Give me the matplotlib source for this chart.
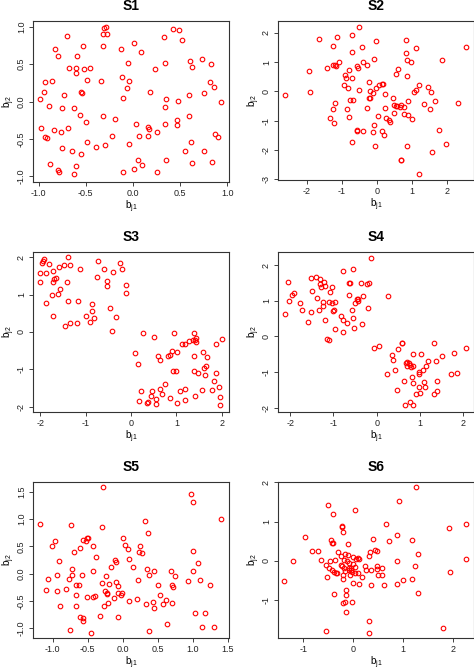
import numpy as np
import matplotlib
matplotlib.use("Agg")
import matplotlib.pyplot as plt

plt.rcParams['font.family'] = ['Liberation Sans', 'DejaVu Sans']
plt.rcParams['mathtext.default'] = 'regular'
plt.rcParams['axes.unicode_minus'] = False

# ---------------- data ----------------
s1_x = [-0.31, -0.29, -0.32, -0.27, -0.32, -0.70, -0.83, -0.53, -0.79, -0.59,
        -0.68, -0.60, -0.52, -0.45, -0.60, -0.49, -0.34, -0.86, -0.93, -0.94,
        -0.73, -0.55, -0.54, -0.99, -0.89, -0.75, -0.62, -0.56, -0.50, -0.98,
        -0.84, -0.69, -0.76, -0.93, -0.91, -0.75, -0.65, -0.55, -0.49, -0.39,
        -0.30, -0.32, -0.19, -0.22, -0.88, -0.79, -0.78, -0.60, -0.62, -0.11,
        0.01, 0.05, 0.10, 0.26, -0.04, 0.06, 0.03, 0.16, 0.17, 0.16,
        0.26, 0.34, 0.34, 0.35, 0.48, 0.47, 0.47, 0.60, 0.55, 0.35,
        0.62, 0.63, 0.75, 0.84, 0.87, 0.90, 0.94, 0.75, 0.86, 0.82,
        0.60, 0.83, 0.63, 0.61, 0.73, 0.34, 0.24, 0.18, 0.33, 0.43,
        0.49, 0.52, 0.01, 0.09, -0.13, -0.05, -0.12, -0.04, -0.06, -0.11]
s1_y = [0.99, 1.00, 0.90, 0.90, 0.74, 0.88, 0.71, 0.74, 0.61, 0.61,
        0.45, 0.45, 0.44, 0.45, 0.38, 0.29, 0.28, 0.28, 0.26, 0.13,
        0.09, 0.13, 0.12, 0.04, -0.06, -0.09, -0.09, -0.18, -0.28, -0.35,
        -0.38, -0.36, -0.41, -0.47, -0.49, -0.63, -0.67, -0.70, -0.54, -0.61,
        -0.58, -0.19, -0.23, -0.46, -0.84, -0.92, -0.95, -0.86, -0.97, -0.95,
        -0.91, -0.78, -0.85, -0.95, -0.57, -0.46, -0.30, -0.34, -0.37, -0.46,
        -0.41, -0.30, -0.08, 0.04, 0.01, -0.25, -0.32, -0.19, -0.67, -0.79,
        -0.54, -0.82, -0.66, -0.81, -0.44, -0.47, 0.00, 0.12, 0.19, 0.26,
        0.09, 0.50, 0.46, 0.55, 0.57, 0.52, 0.44, 0.13, 0.87, 0.97,
        0.96, 0.82, 0.79, 0.66, 0.70, 0.52, 0.33, 0.28, 0.18, 0.05]

s2_x = [-2.64, -1.95, -1.91, -1.65, -1.13, -1.26, -0.52, -0.72, -0.72, -0.42,
        -0.02, -1.07, -1.27, -1.21, -1.18, -1.42, -0.40, -0.57, -0.55, -0.29,
        -0.08, -0.81, -0.90, -0.88, -0.70, -0.94, -0.84, -0.52, -0.22, -0.21,
        -0.12, -0.02, 0.05, 0.14, 0.17, -0.23, -0.20, -0.69, -0.76, -1.20,
        -1.27, -0.86, -0.27, -0.79, -1.33, -1.24, -0.58, -0.57, -0.40, -0.71,
        -0.12, -0.09, -0.05, 0.04, 0.14, 0.21, 0.24, 0.25, 0.24, 0.45,
        0.36, 0.38, 0.48, 0.50, 0.55, 0.56, 0.61, 0.69, 0.77, 0.77,
        0.67, 0.59, 0.88, 1.00, 0.87, 0.90, 0.82, 0.84, 0.87, 0.98,
        1.12, 1.07, 1.13, 1.22, 1.36, 1.45, 1.54, 1.52, 1.65, 1.85,
        2.56, 2.32, 1.78, 1.99, 1.57, 0.86, 0.69, 0.70, 1.20]
s2_y = [-0.11, 0.71, -0.03, 1.77, 1.85, 1.54, 2.21, 1.92, 1.36, 1.51,
        1.71, 1.01, 0.90, 0.89, 0.88, 0.80, 1.01, 0.85, 0.79, 0.89,
        1.12, 0.72, 0.56, 0.44, 0.46, 0.22, 0.11, 0.06, 0.31, 0.00,
        -0.07, 0.10, 0.22, 0.26, 0.26, -0.24, -0.24, -0.28, -0.30, -0.38,
        -0.59, -0.60, -0.56, -0.88, -0.90, -1.07, -1.31, -1.36, -1.36, -1.72,
        -1.40, -1.14, -1.87, -0.83, -1.34, -1.47, -0.58, -0.90, -0.10, -0.22,
        -0.97, -1.05, -0.74, -0.47, -0.49, 0.60, 0.75, -0.48, -0.52, -0.76,
        -0.54, -0.49, -0.80, -0.95, 0.51, -0.31, 1.31, 1.75, 1.08, 1.01,
        1.48, -0.02, 0.06, 0.21, -0.43, 0.15, -0.03, -0.59, -0.32, 1.07,
        1.51, -0.41, -1.31, -1.79, -2.05, -1.86, -2.35, -2.34, -2.81]

s3_x = [-2.00, -2.00, -1.97, -1.94, -1.92, -1.81, -1.88, -1.87, -1.71, -1.74,
        -1.72, -1.69, -1.66, -1.71, -1.59, -1.47, -1.56, -1.62, -1.38, -1.34,
        -1.40, -1.38, -1.46, -1.35, -1.13, -1.16, -1.18, -1.00, -0.90, -0.85,
        -0.85, -0.82, -0.76, -0.72, -0.60, -0.54, -0.53, -0.46, -0.41, -0.34,
        -0.40, -0.24, -0.19, -0.11, -0.10,
        0.26, 0.09, 0.15, 0.51, 0.94, 0.60, 0.65, 0.81, 0.87, 0.90,
        1.02, 0.93, 0.99, 1.12, 1.18, 1.28, 1.38, 1.37, 1.40, 1.43,
        1.44, 1.38, 1.38, 1.47, 1.58, 1.68, 1.60, 1.65, 1.64, 1.88,
        2.00, 1.88, 1.84, 1.79, 1.94, 1.97, 1.96, 1.56, 1.40, 1.18,
        1.20, 1.07, 1.02, 0.75, 0.65, 0.68, 0.85, 0.47, 0.43, 0.54,
        0.54, 0.37, 0.35, 0.22, 0.18]
s3_y = [1.35, 1.57, 1.84, 1.89, 1.95, 1.82, 1.57, 0.77, 0.44, 1.00,
        1.34, 1.41, 1.44, 1.64, 1.73, 1.78, 1.16, 1.01, 2.00, 1.78,
        1.34, 0.83, 0.15, 0.24, 1.69, 0.82, 0.25, 0.44, 0.26, 0.74,
        0.55, 0.37, 1.47, 1.91, 1.68, 1.37, 1.23, 0.65, 0.03, 0.40,
        1.61, 1.84, 1.68, 1.25, 1.05,
        -0.04, -0.56, -0.86, -0.13, -0.04, -0.64, -0.75, -0.64, -0.61, -0.51,
        -0.53, -1.05, -1.04, -0.32, -0.32, -0.24, -0.02, -0.22, -0.22, -0.15,
        -0.26, -0.65, -1.03, -1.09, -0.54, -0.66, -0.95, -0.91, -1.14, -0.33,
        -0.19, -1.09, -1.31, -1.55, -1.46, -1.73, -1.95, -1.54, -1.71, -1.52,
        -1.83, -1.58, -1.89, -1.38, -1.52, -1.66, -1.77, -1.58, -1.71, -1.78,
        -1.93, -1.86, -1.91, -1.58, -1.85]

s4_x = [-2.12, -2.05, -2.02, -1.96, -1.90, -1.76, -1.72, -1.58, -1.52, -1.50,
        -1.51, -1.40, -1.39, -1.34, -1.31, -1.32, -1.28, -1.25, -1.23, -1.21,
        -1.20, -1.19, -1.15, -1.09, -1.09, -1.08, -1.03, -1.04, -1.00, -0.98,
        -0.96, -0.97, -0.82, -0.78, -0.78, -0.77, -0.68, -0.65, -0.62, -0.63,
        -0.57, -0.55, -0.55, -0.52, -0.49, -0.46, -0.43, -0.43, -0.36, -0.32,
        -0.34, -0.23, -0.18, -0.20, -0.14, 0.26,
        -0.06, 0.06, 0.25, 0.35, 0.37, 0.43, 0.49, 0.48, 0.58, 0.59,
        0.63, 0.65, 0.68, 0.71, 0.70, 0.75, 0.77, 0.79, 0.78, 0.83,
        0.83, 0.82, 0.83, 0.85, 0.91, 0.98, 0.98, 0.98, 1.00, 1.03,
        1.07, 1.10, 1.11, 1.15, 1.19, 1.32, 1.37, 1.40, 1.40, 1.32,
        1.52, 1.72, 1.78, 1.85, 2.06]
s4_y = [0.64, 1.52, 1.00, 1.15, 1.23, 0.94, 0.75, 0.40, 1.64, 1.28,
        0.68, 1.66, 1.07, 0.74, 1.62, 1.47, 1.38, 0.85, 0.98, 1.53,
        1.42, 0.46, -0.07, -0.10, 0.98, 1.24, 1.38, 0.95, 0.72, 0.74,
        0.96, 0.21, 0.57, 1.83, 0.46, 0.12, 0.38, 1.49, 1.49, 1.15,
        0.75, 1.88, 0.52, 0.25, 0.95, 1.06, 1.06, 0.99, 1.49, 1.13,
        0.35, 1.47, 1.49, 0.79, 2.20, 1.13,
        -0.33, -0.28, -1.05, -0.53, -0.67, -0.93, -0.35, -1.51, -0.17, -0.17,
        -1.26, -1.91, -0.74, -0.72, -0.83, -0.74, -0.80, -0.87, -1.83, -1.92,
        -0.50, -1.15, -1.32, -0.83, -1.62, -1.04, -1.00, -1.43, -1.60, -0.50,
        -0.93, -1.28, -1.42, -0.82, -0.70, -0.17, -0.70, -1.24, -1.53, -1.62,
        -0.55, -1.06, -0.46, -1.02, -0.33]

s5_x = [-1.18, -1.07, -1.09, -1.01, -0.96, -0.94, -0.94, -0.91, -0.89, -0.81,
        -0.76, -0.74, -0.75, -0.72, -0.72, -0.70, -0.67, -0.67, -0.67, -0.63,
        -0.61, -0.61, -0.58, -0.57, -0.57, -0.57, -0.53, -0.51, -0.49, -0.51,
        -0.43, -0.42, -0.42, -0.40, -0.38, -0.45, -0.33, -0.29, -0.28, -0.29,
        -0.27, -0.25, -0.24, -0.23, -0.22, -0.21, -0.20, -0.17, -0.13, -0.11,
        -0.10, -0.10, -0.07, -0.07, -0.06, -0.03, -0.01, 0.00, 0.03, 0.07,
        0.09, 0.09, 0.15, 0.20, 0.22, 0.23, 0.25, 0.27, 0.32, 0.33,
        0.35, 0.36, 0.38, 0.38, 0.44, 0.45, 0.45, 0.51, 0.54, 0.57,
        0.62, 0.63, 0.69, 0.70, 0.70, 0.72, 0.75, 0.94, 0.97, 1.00,
        1.00, 1.01, 1.03, 1.07, 1.10, 1.13, 1.17, 1.25, 1.31, 1.41]
s5_y = [0.91, -0.09, -0.30, 0.50, 0.59, -0.02, -0.32, 0.24, -0.59, -0.28,
        -0.10, 0.89, -1.03, 0.08, -0.02, 0.39, -0.21, -0.39, -0.59, -0.21,
        0.47, -0.79, -0.02, 0.62, -0.82, -0.86, 0.60, 0.66, 0.65, -0.43,
        0.50, 0.05, -0.43, -0.41, 0.30, -1.09, -0.78, 0.86, 1.59, -0.18,
        -0.59, -0.31, -0.04, -0.36, -0.38, -0.53, -0.19, 0.12, -0.45, 0.25,
        0.21, -0.15, -0.79, -0.35, -0.23, -0.39, -0.36, 0.65, 0.52, 0.45,
        0.26, -0.50, 0.13, -0.46, -0.11, 0.39, 0.50, 0.37, 0.96, -0.56,
        0.09, 0.75, -0.02, -1.05, -0.52, -0.63, 0.04, -0.20, -0.39, -0.55,
        -0.48, -0.93, 0.05, -0.53, -0.21, -0.24, -0.04, -0.14, 1.46, 1.31,
        0.04, 0.41, -0.72, 0.19, -0.11, -0.98, -0.73, -0.20, -0.98, 1.00]

s6_x = [-1.38, -1.21, -0.96, -0.82, -0.70, -0.64, -0.55, -0.55, -0.52, -0.50,
        -0.46, -0.48, -0.45, -0.42, -0.40, -0.42, -0.40, -0.39, -0.39, -0.36,
        -0.35, -0.32, -0.31, -0.25, -0.25, -0.23, -0.23, -0.23, -0.21, -0.21,
        -0.21, -0.20, -0.19, -0.19, -0.17, -0.17, -0.16, -0.15, -0.15, -0.15,
        -0.13, -0.11, -0.10, -0.09, -0.09, -0.08, -0.07, -0.05, -0.04, -0.03,
        -0.03, -0.01, 0.00, 0.00, 0.03, 0.04, 0.04, 0.05, 0.09, 0.09,
        0.11, 0.12, 0.17, 0.24, 0.25, 0.31, 0.31, 0.31, 0.33, 0.36,
        0.36, 0.40, 0.43, 0.48, 0.47, 0.48, 0.50, 0.58, 0.58, 0.62,
        0.66, 0.71, 0.87, 0.88, 0.88, 0.91, 0.99, 1.17, 1.17, 1.23,
        1.26, 1.30, 1.29, 1.80, 1.92, 1.93, 2.26, 2.26]
s6_y = [-0.50, 0.01, 0.61, 0.26, 0.26, 0.02, -0.09, -1.77, -0.40, 1.42,
        0.00, -0.19, 0.53, 0.46, 0.45, -0.23, 1.19, -0.28, -0.83, 0.03,
        -0.31, -0.31, 0.24, 0.13, -0.11, 0.90, 0.87, -0.14, 0.75, -0.36,
        -1.07, -0.45, 0.02, -0.19, -0.26, -1.05, 0.18, -0.75, -0.87, -1.31,
        0.01, 0.14, 0.43, -0.06, -0.19, -0.24, -0.35, -0.23, -0.19, -0.28,
        -1.04, -0.08, 0.09, -0.56, 1.31, -0.16, -0.31, 0.06, 0.08, -0.31,
        -0.58, 0.06, -0.40, -0.14, -0.23, 0.13, -1.54, -1.83, 0.23, -0.24,
        -0.61, 0.56, 0.29, 0.26, -0.14, -0.21, -0.36, -0.18, -0.35, -0.62,
        0.94, 0.51, -0.58, 0.65, -0.01, 1.52, -0.48, 0.53, -0.46, -0.13,
        1.88, 0.18, -0.82, -1.71, 0.85, -0.28, 0.95, 0.06]

titles = ['S1', 'S2', 'S3', 'S4', 'S5', 'S6']
xs = [s1_x, s2_x, s3_x, s4_x, s5_x, s6_x]
ys = [s1_y, s2_y, s3_y, s4_y, s5_y, s6_y]
xticks = [[-1.0, -0.5, 0.0, 0.5, 1.0], [-2, -1, 0, 1, 2], [-2, -1, 0, 1, 2],
          [-2, -1, 0, 1, 2], [-1.0, -0.5, 0.0, 0.5, 1.0, 1.5], [-1, 0, 1, 2]]
yticks = [[-1.0, -0.5, 0.0, 0.5, 1.0], [-3, -2, -1, 0, 1, 2], [-2, -1, 0, 1, 2],
          [-2, -1, 0, 1, 2], [-1.0, -0.5, 0.0, 0.5, 1.0, 1.5], [-1, 0, 1, 2]]
xlims = [(-1.06, 1.02), (-2.83, 2.78), (-2.16, 2.16), (-2.28, 2.25), (-1.28, 1.52), (-1.51, 2.42)]
ylims = [(-1.08, 1.08), (-3.02, 2.40), (-2.14, 2.14), (-2.12, 2.37), (-1.18, 1.68), (-1.96, 2.01)]
fmts = ['%.1f', '%d', '%d', '%d', '%.1f', '%d']

# axes boxes in pixels (left, top, right, bottom)
W, H = 474, 671
boxes = [(33, 21, 229, 182), (278, 21, 474, 180),
         (33, 252, 229, 412), (278, 252, 474, 412),
         (33, 482, 229, 638), (278, 482, 474, 638)]

fig = plt.figure(figsize=(4.74, 6.71), dpi=100)
for i in range(6):
    l, t, r, b = boxes[i]
    ax = fig.add_axes([l / W, (H - b) / H, (r - l) / W, (b - t) / H])
    ax.plot(xs[i], ys[i], 'o', ms=3.3, mfc='none', mec='red', mew=0.8)
    ax.set_xlim(xlims[i])
    ax.set_ylim(ylims[i])
    ax.set_xticks(xticks[i])
    ax.set_yticks(yticks[i])
    ax.set_xticklabels([fmts[i] % v for v in xticks[i]], fontsize=6.5)
    ax.set_yticklabels([fmts[i] % v for v in yticks[i]], fontsize=6.5,
                       rotation=90, va='center')
    ax.tick_params(direction='out', length=3, width=0.6, pad=2, colors='#222222')
    for s in ax.spines.values():
        s.set_linewidth(0.8)
        s.set_color('#333333')
    ax.set_title(titles[i], fontsize=10, fontweight='bold', pad=8)
    ax.set_xlabel('b$_{j1}$', fontsize=7, labelpad=0.5)
    ax.set_ylabel('b$_{j2}$', fontsize=7, labelpad=0)

plt.savefig('out.png', dpi=100)
